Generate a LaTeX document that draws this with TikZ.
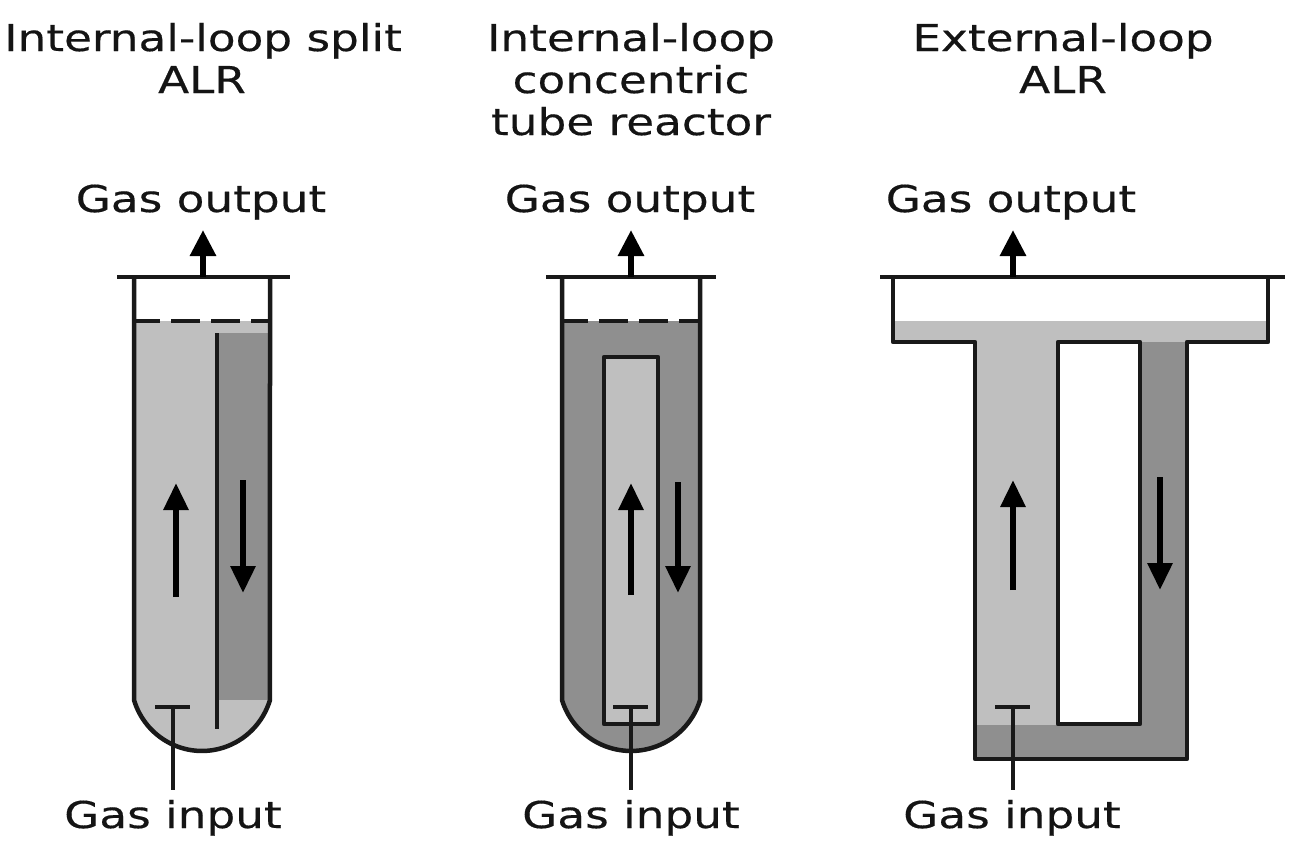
\documentclass[tikz,border=0pt]{standalone}
\usepackage{fontspec}
\setmainfont[FakeStretch=1.225,FakeBold=0.4]{DejaVu Sans}
\usetikzlibrary{arrows.meta}
\definecolor{lightfill}{gray}{0.75}
\definecolor{darkfill}{gray}{0.56}
\tikzset{
  lbl/.style={anchor=base,inner sep=0pt,align=center,font=\fontsize{37}{48}\selectfont,text=black!92},
  wall/.style={draw=black!90,line width=4.5pt,line join=round},
  thin wall/.style={draw=black!90,line width=4pt},
  flow/.style={draw=black,line width=6pt,-{Triangle[length=27pt,width=24pt]}},
  gasflow/.style={draw=black,line width=6pt,-{Triangle[length=26pt,width=25pt]}},
  pipe/.style={draw=black!90,line width=4pt}
}
\begin{document}
\begin{tikzpicture}[x=1pt,y=-1pt]
\useasboundingbox (0,0) rectangle (1306,852);
% --- titles
\node[lbl] (t1a) at (203,51) {Internal-loop split};
\node[lbl] (t1b) at (202,93) {ALR};
\node[lbl] (t2a) at (631,51) {Internal-loop};
\node[lbl] (t2b) at (631,93) {concentric};
\node[lbl] (t2c) at (631,135) {tube reactor};
\node[lbl] (t3a) at (1063,51) {External-loop};
\node[lbl] (t3b) at (1063,93) {ALR};
\node[lbl] (o1) at (201,212) {Gas output};
\node[lbl] (o2) at (630,212) {Gas output};
\node[lbl] (o3) at (1011,212) {Gas output};
\node[lbl] (i1) at (173,828) {Gas input};
\node[lbl] (i2) at (631,828) {Gas input};
\node[lbl] (i3) at (1012,828) {Gas input};
% --- left reactor
\fill[lightfill] (134,321) -- (270,321) -- (270,700) arc[start angle=17,end angle=163,x radius=71.1,y radius=72] -- cycle;
\fill[darkfill] (219,333) rectangle (270,700);
\draw[wall] (134,277) -- (134,700) arc[start angle=163,end angle=17,x radius=71.1,y radius=72] -- (270,277);
\draw[thin wall] (117,277) -- (290,277);
\draw[thin wall,dash pattern=on 29pt off 11pt,dash phase=3pt] (134,321) -- (270,321);
\draw[pipe] (217,333) -- (217,729);
\draw[pipe] (155,707) -- (190,707);
\draw[pipe] (173,707) -- (173,790);
\coordinate (g1a) at (203,277); \coordinate (g1b) at (203,230);
\draw[gasflow] (g1a) -- (g1b);
\coordinate (u1a) at (176,597); \coordinate (u1b) at (176,483);
\coordinate (d1a) at (243,480); \coordinate (d1b) at (243,593);
\draw[flow] (u1a) -- (u1b);
\draw[flow] (d1a) -- (d1b);
% --- centre reactor
\fill[darkfill] (562,321) -- (700,321) -- (700,700) arc[start angle=17,end angle=163,x radius=72.2,y radius=72] -- cycle;
\fill[lightfill] (604,357) rectangle (658,724);
\draw[wall] (604,357) rectangle (658,724);
\draw[wall] (562,277) -- (562,700) arc[start angle=163,end angle=17,x radius=72.2,y radius=72] -- (700,277);
\draw[thin wall] (546,277) -- (716,277);
\draw[thin wall,dash pattern=on 29pt off 11pt,dash phase=3pt] (562,321) -- (700,321);
\draw[pipe] (613,707) -- (648,707);
\draw[pipe] (631,707) -- (631,790);
\coordinate (g2a) at (631,277); \coordinate (g2b) at (631,230);
\draw[gasflow] (g2a) -- (g2b);
\coordinate (u2a) at (631,595); \coordinate (u2b) at (631,483);
\coordinate (d2a) at (678,482); \coordinate (d2b) at (678,593);
\draw[flow] (u2a) -- (u2b);
\draw[flow] (d2a) -- (d2b);
% --- right reactor
\fill[lightfill] (893,321) rectangle (1268,342);
\fill[lightfill] (975,342) rectangle (1058,726);
\fill[darkfill] (1140,342) rectangle (1187,759);
\fill[darkfill] (975,725) rectangle (1187,759);
\fill[white] (1058,342) rectangle (1140,724);
\draw[wall] (893,277) -- (893,342) -- (975,342) -- (975,759) -- (1187,759) -- (1187,342) -- (1268,342) -- (1268,277);
\draw[wall] (1058,342) rectangle (1140,724);
\draw[thin wall] (880,277) -- (1285,277);
\draw[pipe] (995,707) -- (1030,707);
\draw[pipe] (1013,707) -- (1013,790);
\coordinate (g3a) at (1013,277); \coordinate (g3b) at (1013,230);
\draw[gasflow] (g3a) -- (g3b);
\coordinate (u3a) at (1013,590); \coordinate (u3b) at (1013,480);
\coordinate (d3a) at (1160,477); \coordinate (d3b) at (1160,590);
\draw[flow] (u3a) -- (u3b);
\draw[flow] (d3a) -- (d3b);
\end{tikzpicture}
\end{document}
